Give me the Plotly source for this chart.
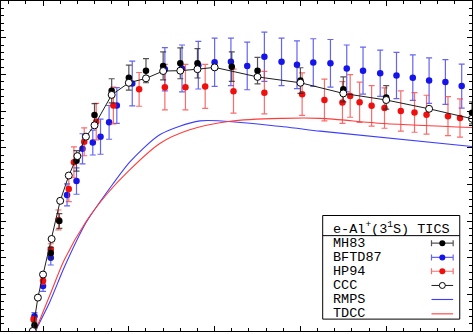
import plotly.graph_objects as go

# Total ionization cross sections for e-Al+ (3 1S)
# MH83 measurements
mh83_e = [19.0, 20.9, 21.9, 23.9, 26.0, 28.0, 30.0, 32.0, 34.0, 36.0, 38.0, 42.0, 45.0, 50.0, 55.0, 60.0, 70.0]
mh83_s = [0.16, 2.13, 3.00, 4.64, 5.89, 6.55, 6.91, 7.10, 7.23, 7.30, 7.30, 7.21, 7.10, 6.83, 6.59, 6.37, 5.95]
mh83_err = [0.08, 0.15, 0.20, 0.28, 0.31, 0.33, 0.34, 0.33, 0.38, 0.42, 0.40, 0.40, 0.36, 0.35, 0.34, 0.32, 0.30]

# BFTD87 measurements
bftd_e = [19.0, 20.0, 20.9, 22.8, 23.9, 24.6, 25.8, 26.7, 27.7, 28.6, 30.4, 34.2, 36.2, 38.1, 40.0,
          41.9, 43.8, 45.8, 47.8, 49.6, 51.5, 53.5, 55.4, 57.3, 59.3, 61.2, 63.1, 65.0, 66.9, 68.8]
bftd_s = [0.40, 1.23, 2.00, 3.71, 4.09, 4.97, 5.14, 5.30, 5.69, 6.15, 6.75, 7.14, 7.16, 7.25, 7.33,
          7.34, 7.23, 7.48, 7.34, 7.26, 7.32, 7.30, 7.16, 7.10, 7.03, 6.97, 6.91, 6.83, 6.79, 6.68]
bftd_err = [0.10, 0.15, 0.20, 0.30, 0.36, 0.41, 0.34, 0.48, 0.46, 0.49, 0.61, 0.59, 0.64, 0.65, 0.66,
            0.65, 0.65, 0.67, 0.65, 0.65, 0.65, 0.65, 0.64, 0.64, 0.63, 0.63, 0.62, 0.62, 0.61, 0.60]

# HP94 measurements
hp94_e = [18.9, 20.0, 20.9, 21.8, 23.0, 23.6, 24.8, 26.2, 28.2, 31.2, 34.2, 36.6, 38.9, 42.2, 45.8,
          50.2, 52.8, 54.9, 55.8, 56.9, 58.3, 59.8, 61.7, 63.3, 64.7, 67.2, 68.6]
hp94_s = [0.32, 1.37, 2.23, 3.03, 3.87, 4.60, 5.16, 5.71, 6.15, 6.59, 6.65, 6.65, 6.67, 6.54, 6.50,
          6.46, 6.30, 6.23, 6.41, 6.24, 6.14, 6.08, 6.00, 5.96, 5.90, 5.86, 5.81]
hp94_err = [0.05, 0.10, 0.15, 0.27, 0.34, 0.42, 0.38, 0.50, 0.50, 0.46, 0.62, 0.62, 0.60, 0.60, 0.58,
            0.58, 0.57, 0.57, 0.58, 0.55, 0.55, 0.55, 0.55, 0.54, 0.53, 0.53, 0.52]

# CCC calculation
ccc_e = [18.8, 19.4, 20, 21, 22, 23, 24, 25, 26, 28, 30, 32, 34, 36, 38, 40, 45, 50, 55, 60, 65, 70]
ccc_s = [0.0, 0.91, 1.54, 2.51, 3.55, 4.24, 4.77, 5.30, 5.61, 6.44, 6.77, 6.89, 7.09, 7.10, 7.14,
         7.19, 6.93, 6.77, 6.48, 6.30, 6.06, 5.79]

# RMPS calculation
rmps_e = [19.1, 20.8, 22.5, 25.0, 27.8, 30.15, 33.65, 38.3, 48.0, 52.3, 70.0]
rmps_s = [0.0, 0.80, 1.75, 2.95, 3.90, 4.62, 5.36, 5.73, 5.57, 5.45, 5.03]

# TDCC calculation
tdcc_e = [19.1, 20.8, 22.5, 25.0, 27.5, 29.95, 33.65, 37.0, 41.8, 48.0, 52.3, 59.7, 70.0]
tdcc_s = [0.0, 0.98, 1.95, 2.98, 3.75, 4.36, 5.12, 5.48, 5.72, 5.80, 5.80, 5.66, 5.55]

legend_title = "e-Al<sup>+</sup>(3<sup>1</sup>S) TICS"
legend_labels = ["MH83", "BFTD87", "HP94", "CCC", "RMPS", "TDCC"]

BLUE = "rgb(20,20,235)"
BLUE_BAR = "rgba(50,50,240,0.75)"
RED = "rgb(240,15,15)"
RED_BAR = "rgba(245,60,60,0.75)"
BLUE_LINE = "rgb(60,60,255)"
RED_LINE = "rgb(255,60,60)"

fig = go.Figure()

fig.add_trace(go.Scatter(x=rmps_e, y=rmps_s, mode="lines", line_shape="spline",
                         line=dict(color=BLUE_LINE, width=1.1, smoothing=0.7), showlegend=False))
fig.add_trace(go.Scatter(x=tdcc_e, y=tdcc_s, mode="lines", line_shape="spline",
                         line=dict(color=RED_LINE, width=1.1, smoothing=0.9), showlegend=False))
fig.add_trace(go.Scatter(x=bftd_e, y=bftd_s, mode="markers",
                         marker=dict(color=BLUE, size=6.5),
                         error_y=dict(type="data", array=bftd_err, color=BLUE_BAR, thickness=1.2, width=3),
                         showlegend=False))
fig.add_trace(go.Scatter(x=hp94_e, y=hp94_s, mode="markers",
                         marker=dict(color=RED, size=6.5),
                         error_y=dict(type="data", array=hp94_err, color=RED_BAR, thickness=1.2, width=3),
                         showlegend=False))
fig.add_trace(go.Scatter(x=mh83_e, y=mh83_s, mode="markers",
                         marker=dict(color="black", size=6.5),
                         error_y=dict(type="data", array=mh83_err, color="rgba(40,40,40,0.8)",
                                      thickness=1.2, width=3),
                         showlegend=False))
fig.add_trace(go.Scatter(x=ccc_e, y=ccc_s, mode="lines+markers",
                         line=dict(color="rgb(30,30,30)", width=1),
                         marker=dict(color="white", size=7, line=dict(color="black", width=1)),
                         showlegend=False))

# legend box drawn in paper coordinates
box_x0, box_x1 = 0.683, 0.974
box_y0, box_y1 = 0.036, 0.350
sep_y = 0.289
fig.add_shape(type="rect", xref="paper", yref="paper", x0=box_x0, x1=box_x1, y0=box_y0, y1=box_y1,
              line=dict(color="black", width=1), fillcolor="white", layer="below")
fig.add_shape(type="line", xref="paper", yref="paper", x0=box_x0, x1=box_x1, y0=sep_y, y1=sep_y,
              line=dict(color="black", width=1))

mono = "Liberation Mono, Courier New, monospace"
fig.add_annotation(xref="paper", yref="paper", x=0.701, y=0.311, text=legend_title,
                   showarrow=False, xanchor="left", yanchor="middle",
                   font=dict(family=mono, size=13.5, color="black"))
row_y = [0.266, 0.223, 0.181, 0.138, 0.0955, 0.052]
for lab, yy in zip(legend_labels, row_y):
    fig.add_annotation(xref="paper", yref="paper", x=0.701, y=yy, text=lab,
                       showarrow=False, xanchor="left", yanchor="middle",
                       font=dict(family=mono, size=13.5, color="black"))

# legend samples on an overlay axis spanning the plot area (0..1)
sx = 0.937
half = 0.023
sample_styles = [
    dict(color="black", bar="rgba(40,40,40,0.8)"),
    dict(color=BLUE, bar=BLUE_BAR),
    dict(color=RED, bar=RED_BAR),
]
for st, yy in zip(sample_styles, row_y[:3]):
    fig.add_trace(go.Scatter(x=[sx], y=[yy], mode="markers", xaxis="x2", yaxis="y2",
                             marker=dict(color=st["color"], size=6),
                             error_x=dict(type="constant", value=half, color=st["bar"],
                                          thickness=1.2, width=3),
                             showlegend=False))
fig.add_trace(go.Scatter(x=[sx - half, sx + half], y=[row_y[3], row_y[3]], mode="lines",
                         xaxis="x2", yaxis="y2", line=dict(color="rgb(30,30,30)", width=1),
                         showlegend=False))
fig.add_trace(go.Scatter(x=[sx], y=[row_y[3]], mode="markers", xaxis="x2", yaxis="y2",
                         marker=dict(color="white", size=6, line=dict(color="black", width=1)),
                         showlegend=False))
fig.add_trace(go.Scatter(x=[sx - half, sx + half], y=[row_y[4], row_y[4]], mode="lines",
                         xaxis="x2", yaxis="y2", line=dict(color=BLUE_LINE, width=1.1),
                         showlegend=False))
fig.add_trace(go.Scatter(x=[sx - half, sx + half], y=[row_y[5], row_y[5]], mode="lines",
                         xaxis="x2", yaxis="y2", line=dict(color=RED_LINE, width=1.1),
                         showlegend=False))

axis_common = dict(showticklabels=False, showgrid=False, zeroline=False,
                   showline=True, linecolor="black", linewidth=1, mirror="ticks",
                   ticks="inside", ticklen=5, tickcolor="black", tickwidth=1)

fig.update_layout(
    width=474, height=334,
    margin=dict(l=1, r=2, t=1, b=3),
    paper_bgcolor="white", plot_bgcolor="white",
    showlegend=False,
    xaxis=dict(range=[15.1, 70.0], tick0=20, dtick=10,
               minor=dict(dtick=2, ticks="inside", ticklen=3, tickcolor="black", showgrid=False),
               **axis_common),
    yaxis=dict(range=[0, 9], tick0=0, dtick=1,
               minor=dict(dtick=0.2, ticks="inside", ticklen=3, tickcolor="black", showgrid=False),
               **axis_common),
    xaxis2=dict(overlaying="x", range=[0, 1], visible=False),
    yaxis2=dict(overlaying="y", range=[0, 1], visible=False),
)

fig.write_html("out.html")
